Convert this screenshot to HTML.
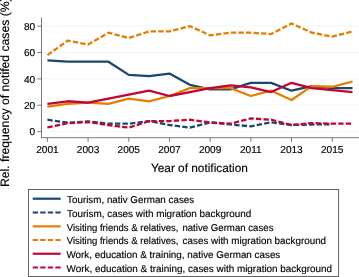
<!DOCTYPE html>
<html><head><meta charset="utf-8"><title>Chart</title>
<style>
html,body{margin:0;padding:0;background:#fff}
svg text{font-family:"Liberation Sans",Arial,Helvetica,sans-serif;fill:#000;text-rendering:geometricPrecision;stroke:#000;stroke-width:0.15px}
</style></head><body>
<svg width="359" height="277" viewBox="0 0 359 277" style="display:block">
<rect width="359" height="277" fill="#fff"/>
<line x1="43.3" x2="359" y1="131.60" y2="131.60" stroke="#e9f1f4" stroke-width="0.65"/>
<line x1="43.3" x2="359" y1="105.23" y2="105.23" stroke="#e9f1f4" stroke-width="0.65"/>
<line x1="43.3" x2="359" y1="78.86" y2="78.86" stroke="#e9f1f4" stroke-width="0.65"/>
<line x1="43.3" x2="359" y1="52.49" y2="52.49" stroke="#e9f1f4" stroke-width="0.65"/>
<line x1="43.3" x2="359" y1="26.12" y2="26.12" stroke="#e9f1f4" stroke-width="0.65"/>
<polyline fill="none" stroke="#1a476f" stroke-width="2.3" stroke-linejoin="round" points="47.40,60.40 67.74,61.72 88.09,61.72 108.43,61.72 128.77,74.90 149.12,76.22 169.46,73.59 189.80,84.79 210.14,89.41 230.49,89.41 250.83,82.82 271.17,82.82 291.52,90.73 311.86,86.11 332.20,88.09 352.54,88.09"/>
<polyline fill="none" stroke="#1a476f" stroke-width="2.3" stroke-linejoin="round" stroke-dasharray="5.35,2.2" points="47.40,119.73 67.74,122.77 88.09,121.45 108.43,123.69 128.77,123.69 149.12,121.05 169.46,125.01 189.80,127.64 210.14,122.37 230.49,124.48 250.83,126.33 271.17,122.37 291.52,125.01 311.86,124.48 332.20,124.35"/>
<polyline fill="none" stroke="#e37e00" stroke-width="2.3" stroke-linejoin="round" points="47.40,106.55 67.74,103.91 88.09,102.59 108.43,103.91 128.77,98.64 149.12,101.27 169.46,96.00 189.80,88.09 210.14,88.09 230.49,88.09 250.83,96.00 271.17,90.73 291.52,99.96 311.86,86.11 332.20,86.77 352.54,81.50"/>
<polyline fill="none" stroke="#e37e00" stroke-width="2.3" stroke-linejoin="round" stroke-dasharray="5.35,2.2" points="47.40,55.13 67.74,40.62 88.09,44.58 108.43,32.71 128.77,37.99 149.12,31.39 169.46,31.39 189.80,26.12 210.14,35.35 230.49,32.71 250.83,32.71 271.17,34.03 291.52,23.48 311.86,32.71 332.20,36.67 352.54,31.39"/>
<polyline fill="none" stroke="#c10534" stroke-width="2.3" stroke-linejoin="round" points="47.40,103.91 67.74,101.27 88.09,102.59 108.43,98.64 128.77,94.68 149.12,90.73 169.46,96.00 189.80,92.04 210.14,88.09 230.49,85.45 250.83,87.43 271.17,92.04 291.52,82.82 311.86,88.09 332.20,90.20 352.54,92.04"/>
<polyline fill="none" stroke="#c10534" stroke-width="2.3" stroke-linejoin="round" stroke-dasharray="5.35,2.2" points="47.40,127.38 67.74,123.16 88.09,122.11 108.43,125.01 128.77,127.64 149.12,121.05 169.46,121.05 189.80,119.73 210.14,122.37 230.49,123.69 250.83,118.41 271.17,119.73 291.52,125.01 311.86,123.03 332.20,123.69 352.54,123.69"/>
<line x1="41.5" x2="41.5" y1="17.5" y2="138.1" stroke="#222" stroke-width="0.6"/>
<line x1="41.5" x2="359" y1="137.7" y2="137.7" stroke="#222" stroke-width="0.6"/>
<line x1="37.3" x2="41.5" y1="131.60" y2="131.60" stroke="#222" stroke-width="0.6"/>
<text x="35.2" y="135.40" text-anchor="end" font-size="10.1">0</text>
<line x1="37.3" x2="41.5" y1="105.23" y2="105.23" stroke="#222" stroke-width="0.6"/>
<text x="35.2" y="109.03" text-anchor="end" font-size="10.1">20</text>
<line x1="37.3" x2="41.5" y1="78.86" y2="78.86" stroke="#222" stroke-width="0.6"/>
<text x="35.2" y="82.66" text-anchor="end" font-size="10.1">40</text>
<line x1="37.3" x2="41.5" y1="52.49" y2="52.49" stroke="#222" stroke-width="0.6"/>
<text x="35.2" y="56.29" text-anchor="end" font-size="10.1">60</text>
<line x1="37.3" x2="41.5" y1="26.12" y2="26.12" stroke="#222" stroke-width="0.6"/>
<text x="35.2" y="29.92" text-anchor="end" font-size="10.1">80</text>
<line x1="47.40" x2="47.40" y1="137.8" y2="141.8" stroke="#222" stroke-width="0.6"/>
<text x="47.40" y="153.2" text-anchor="middle" font-size="10.1">2001</text>
<line x1="88.09" x2="88.09" y1="137.8" y2="141.8" stroke="#222" stroke-width="0.6"/>
<text x="88.09" y="153.2" text-anchor="middle" font-size="10.1">2003</text>
<line x1="128.77" x2="128.77" y1="137.8" y2="141.8" stroke="#222" stroke-width="0.6"/>
<text x="128.77" y="153.2" text-anchor="middle" font-size="10.1">2005</text>
<line x1="169.46" x2="169.46" y1="137.8" y2="141.8" stroke="#222" stroke-width="0.6"/>
<text x="169.46" y="153.2" text-anchor="middle" font-size="10.1">2007</text>
<line x1="210.14" x2="210.14" y1="137.8" y2="141.8" stroke="#222" stroke-width="0.6"/>
<text x="210.14" y="153.2" text-anchor="middle" font-size="10.1">2009</text>
<line x1="250.83" x2="250.83" y1="137.8" y2="141.8" stroke="#222" stroke-width="0.6"/>
<text x="250.83" y="153.2" text-anchor="middle" font-size="10.1">2011</text>
<line x1="291.52" x2="291.52" y1="137.8" y2="141.8" stroke="#222" stroke-width="0.6"/>
<text x="291.52" y="153.2" text-anchor="middle" font-size="10.1">2013</text>
<line x1="332.20" x2="332.20" y1="137.8" y2="141.8" stroke="#222" stroke-width="0.6"/>
<text x="332.20" y="153.2" text-anchor="middle" font-size="10.1">2015</text>
<text x="199.4" y="172.4" text-anchor="middle" font-size="11.85">Year of notification</text>
<text transform="translate(9.4,187) rotate(-90)" text-anchor="start" font-size="12.2">Rel. frequency of notifed cases (%)</text>
<rect x="28.5" y="189.6" width="310.2" height="86.8" fill="#fff" stroke="#333" stroke-width="0.75"/>
<line x1="32.7" x2="60.7" y1="198.70" y2="198.70" stroke="#1a476f" stroke-width="2.2"/>
<text x="67.10" y="203.10" font-size="9.9" textLength="127.10" lengthAdjust="spacingAndGlyphs">Tourism, nativ German cases</text>
<line x1="32.7" x2="60.7" y1="212.50" y2="212.50" stroke="#1a476f" stroke-width="2.2" stroke-dasharray="5.35,2.2"/>
<text x="67.10" y="216.90" font-size="9.9" textLength="184.20" lengthAdjust="spacingAndGlyphs">Tourism, cases with migration background</text>
<line x1="32.7" x2="60.7" y1="226.35" y2="226.35" stroke="#e37e00" stroke-width="2.2"/>
<text x="66.70" y="230.75" font-size="9.9" textLength="111.80" lengthAdjust="spacingAndGlyphs">Visiting friends &amp; relatives,</text>
<text x="182.40" y="230.75" font-size="9.9" textLength="91.10" lengthAdjust="spacingAndGlyphs">native German cases</text>
<line x1="32.7" x2="60.7" y1="240.00" y2="240.00" stroke="#e37e00" stroke-width="2.2" stroke-dasharray="5.35,2.2"/>
<text x="66.70" y="244.40" font-size="9.9" textLength="111.80" lengthAdjust="spacingAndGlyphs">Visiting friends &amp; relatives,</text>
<text x="182.60" y="244.40" font-size="9.9" textLength="143.50" lengthAdjust="spacingAndGlyphs">cases with migration background</text>
<line x1="32.7" x2="60.7" y1="253.75" y2="253.75" stroke="#c10534" stroke-width="2.2"/>
<text x="66.50" y="258.15" font-size="9.9" textLength="213.80" lengthAdjust="spacingAndGlyphs">Work, education &amp; training, native German cases</text>
<line x1="32.7" x2="60.7" y1="267.50" y2="267.50" stroke="#c10534" stroke-width="2.2" stroke-dasharray="5.35,2.2"/>
<text x="66.50" y="271.90" font-size="9.9" textLength="265.60" lengthAdjust="spacingAndGlyphs">Work, education &amp; training, cases with migration background</text>
</svg>
</body></html>
